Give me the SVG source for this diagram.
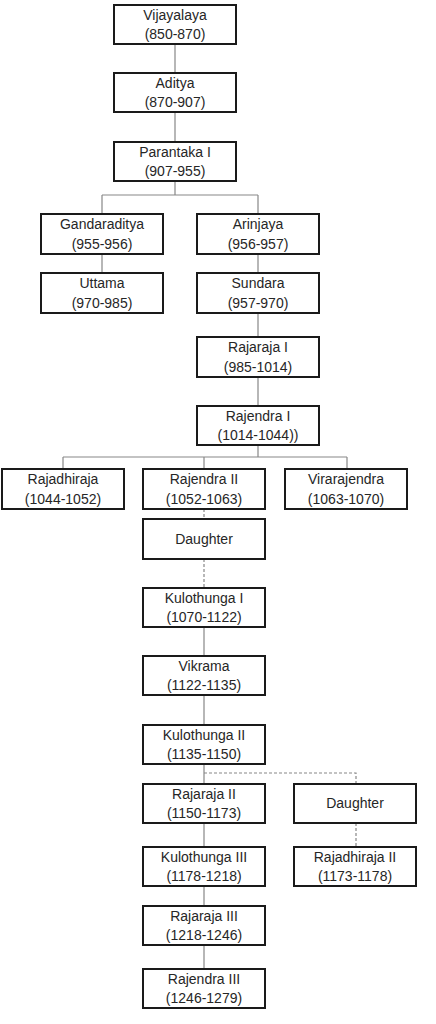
<svg xmlns="http://www.w3.org/2000/svg" width="436" height="1024" viewBox="0 0 436 1024">
<style>
.box{fill:#fff;stroke:#1a1a1a;stroke-width:2}
.t{font-family:"Liberation Sans",Arial,sans-serif;font-size:14px;fill:#262626;text-anchor:middle}
.c{fill:none;stroke:#888;stroke-width:1.2}
.d{fill:none;stroke:#888;stroke-width:1.2;stroke-dasharray:3 2}
</style>
<rect width="436" height="1024" fill="#fff"/>
<g id="connectors">
<path class="c" d="M175 44V73M175 112V142M175 181V195M102 195H258M102 195V214M258 195V214M102 255V273M258 255V273M258 313V337M258 377V406M258 445V457M63 457H347M63 457V469M204 457V469M347 457V469"/>
<path class="d" d="M204 509V519M204 559V588"/>
<path class="c" d="M204 627V656M204 695V725M204 764V784M204 823V847M204 886V906M204 945V969"/>
<path class="d" d="M204 773H356V784M356 823V847"/>
</g>
<g id="n-vijayalaya"><rect class="box" x="114" y="5" width="122" height="39"/><text class="t" x="175" y="20">Vijayalaya</text><text class="t" x="175" y="39">(850-870)</text></g>
<g id="n-aditya"><rect class="box" x="114" y="73" width="122" height="39"/><text class="t" x="175" y="88">Aditya</text><text class="t" x="175" y="107">(870-907)</text></g>
<g id="n-parantaka"><rect class="box" x="114" y="142" width="122" height="39"/><text class="t" x="175" y="157">Parantaka I</text><text class="t" x="175" y="176">(907-955)</text></g>
<g id="n-gandaraditya"><rect class="box" x="41" y="214" width="122" height="40"/><text class="t" x="102" y="229">Gandaraditya</text><text class="t" x="102" y="249">(955-956)</text></g>
<g id="n-arinjaya"><rect class="box" x="197" y="214" width="122" height="40"/><text class="t" x="258" y="229">Arinjaya</text><text class="t" x="258" y="249">(956-957)</text></g>
<g id="n-uttama"><rect class="box" x="41" y="273" width="122" height="40"/><text class="t" x="102" y="288">Uttama</text><text class="t" x="102" y="308">(970-985)</text></g>
<g id="n-sundara"><rect class="box" x="197" y="273" width="122" height="40"/><text class="t" x="258" y="288">Sundara</text><text class="t" x="258" y="308">(957-970)</text></g>
<g id="n-rajaraja1"><rect class="box" x="197" y="337" width="122" height="40"/><text class="t" x="258" y="352">Rajaraja I</text><text class="t" x="258" y="372">(985-1014)</text></g>
<g id="n-rajendra1"><rect class="box" x="197" y="406" width="122" height="39"/><text class="t" x="258" y="421">Rajendra I</text><text class="t" x="258" y="440">(1014-1044))</text></g>
<g id="n-rajadhiraja"><rect class="box" x="2" y="469" width="122" height="40"/><text class="t" x="63" y="484">Rajadhiraja</text><text class="t" x="63" y="504">(1044-1052)</text></g>
<g id="n-rajendra2"><rect class="box" x="143" y="469" width="122" height="40"/><text class="t" x="204" y="484">Rajendra II</text><text class="t" x="204" y="504">(1052-1063)</text></g>
<g id="n-virarajendra"><rect class="box" x="285" y="469" width="122" height="40"/><text class="t" x="346" y="484">Virarajendra</text><text class="t" x="346" y="504">(1063-1070)</text></g>
<g id="n-daughter1"><rect class="box" x="143" y="519" width="122" height="40"/><text class="t" x="204" y="544">Daughter</text></g>
<g id="n-kulothunga1"><rect class="box" x="143" y="588" width="122" height="39"/><text class="t" x="204" y="603">Kulothunga I</text><text class="t" x="204" y="622">(1070-1122)</text></g>
<g id="n-vikrama"><rect class="box" x="143" y="656" width="122" height="39"/><text class="t" x="204" y="671">Vikrama</text><text class="t" x="204" y="690">(1122-1135)</text></g>
<g id="n-kulothunga2"><rect class="box" x="143" y="725" width="122" height="39"/><text class="t" x="204" y="740">Kulothunga II</text><text class="t" x="204" y="759">(1135-1150)</text></g>
<g id="n-rajaraja2"><rect class="box" x="143" y="784" width="122" height="39"/><text class="t" x="204" y="799">Rajaraja II</text><text class="t" x="204" y="818">(1150-1173)</text></g>
<g id="n-daughter2"><rect class="box" x="294" y="784" width="122" height="39"/><text class="t" x="355" y="808">Daughter</text></g>
<g id="n-kulothunga3"><rect class="box" x="143" y="847" width="122" height="39"/><text class="t" x="204" y="862">Kulothunga III</text><text class="t" x="204" y="881">(1178-1218)</text></g>
<g id="n-rajadhiraja2"><rect class="box" x="294" y="847" width="122" height="39"/><text class="t" x="355" y="862">Rajadhiraja II</text><text class="t" x="355" y="881">(1173-1178)</text></g>
<g id="n-rajaraja3"><rect class="box" x="143" y="906" width="122" height="39"/><text class="t" x="204" y="921">Rajaraja III</text><text class="t" x="204" y="940">(1218-1246)</text></g>
<g id="n-rajendra3"><rect class="box" x="143" y="969" width="122" height="39"/><text class="t" x="204" y="984">Rajendra III</text><text class="t" x="204" y="1003">(1246-1279)</text></g>
</svg>
